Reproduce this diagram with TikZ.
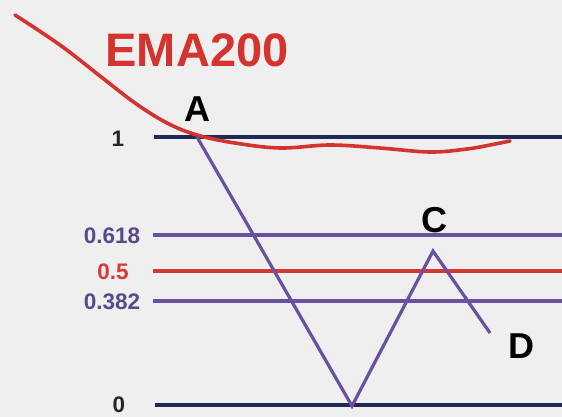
\documentclass[tikz,border=0pt]{standalone}
\usepackage{fontspec}
\setmainfont{Liberation Sans}
\definecolor{bgc}{HTML}{EFEFEF}
\definecolor{navy}{HTML}{1E2A55}
\definecolor{fibp}{HTML}{6A50A0}
\definecolor{fibptxt}{HTML}{5B4A8B}
\definecolor{fibr}{HTML}{D63A35}
\definecolor{emared}{HTML}{D4342F}
\tikzset{
  lvl/.style={line width=3.4pt},
  lvltxt/.style={font=\fontsize{22.5}{22.5}\selectfont\bfseries, inner sep=0pt, anchor=center},
  ptlabel/.style={font=\fontsize{36}{36}\selectfont\bfseries, inner sep=0pt, text=black},
  wave/.style={line width=3.2pt, draw=fibp, line join=miter},
  ema/.style={line width=3.6pt, draw=emared, line cap=round}
}
\begin{document}
\begin{tikzpicture}[x=1pt,y=-1pt]
\fill[bgc] (0,0) rectangle (562,417);
\useasboundingbox (0,0) rectangle (562,417);
% level lines
\coordinate (l1s) at (154,137);   \coordinate (l1e) at (562,137);
\coordinate (l6s) at (153,235);   \coordinate (l6e) at (562,235);
\coordinate (l5s) at (153,271);   \coordinate (l5e) at (562,271);
\coordinate (l3s) at (153,301);   \coordinate (l3e) at (562,301);
\coordinate (l0s) at (155,405);   \coordinate (l0e) at (562,405);
\draw[lvl, navy] (l1s) -- (l1e);
\draw[lvl, fibp] (l6s) -- (l6e);
\draw[lvl, fibr] (l5s) -- (l5e);
\draw[lvl, fibp] (l3s) -- (l3e);
\draw[lvl, navy] (l0s) -- (l0e);
% level labels
\node[lvltxt, text=black!85] (t1) at (118,139) {1};
\node[lvltxt, text=fibptxt] (t6) at (112,236) {0.618};
\node[lvltxt, text=fibr] (t5) at (113,272) {0.5};
\node[lvltxt, text=fibptxt] (t3) at (112,302) {0.382};
\node[lvltxt, text=black!85] (t0) at (119,405) {0};
% wave
\coordinate (A) at (197,137);
\coordinate (B) at (352,406);
\coordinate (C) at (433,251);
\coordinate (D) at (490,333);
\draw[wave] (A) -- (B) -- (C) -- (D);
% EMA curve
\draw[ema] plot[smooth, tension=0.6] coordinates {(15,15) (60,45) (100,76) (135,103) (167,123) (197,135) (235,143) (280,148) (330,145) (380,148) (430,152) (467,149) (490,145) (510,141)};
% labels
\node[ptlabel] (la) at (197,109) {A};
\node[ptlabel] (lc) at (434,220) {C};
\node[ptlabel] (ld) at (521,346) {D};
\node[font=\fontsize{47}{47}\selectfont\bfseries, text=emared, inner sep=0pt] (ema) at (197,50) {EMA200};
\end{tikzpicture}
\end{document}
